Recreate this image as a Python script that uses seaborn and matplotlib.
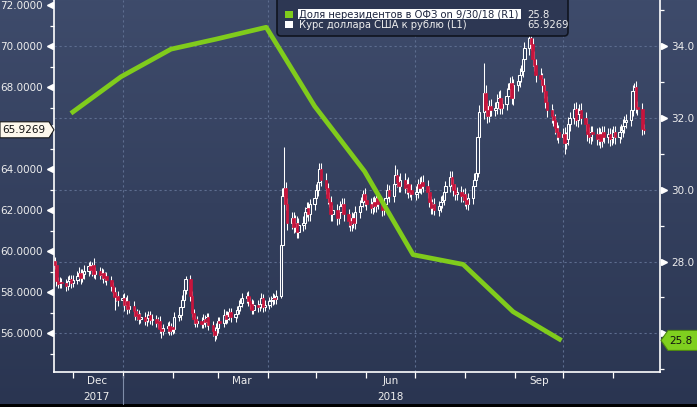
import numpy as np
import pandas as pd
import matplotlib
matplotlib.use("Agg")
import matplotlib.pyplot as plt
import matplotlib.dates as mdates
import matplotlib.patches as mpatches
from matplotlib.colors import LinearSegmentedColormap
from matplotlib.ticker import FixedLocator, FuncFormatter, NullFormatter
import seaborn as sns

# ---------------- data ----------------
first_open = 59.55
close = [
    59.35, 58.55, 58.40, 58.50, 58.45,
    58.30, 58.55, 58.65, 58.45, 58.60,
    58.80, 58.95, 58.70, 58.90, 59.05,
    59.30, 59.10, 59.35, 58.90, 59.05,
    58.85, 58.95, 58.70, 58.80, 58.60,
    58.30, 58.00, 57.75, 57.80, 57.60,
    57.70, 57.40, 57.55, 57.20, 57.35,
    57.10, 56.85, 56.95, 56.70, 56.80,
    56.60, 56.75, 56.90, 56.65, 56.70,
    56.50, 56.60, 56.20, 56.10, 56.25,
    56.35, 56.10, 56.30, 56.20, 56.80,
    56.90, 57.30, 57.60, 58.10, 58.65,
    57.80, 57.00, 56.70, 56.50, 56.60,
    56.45, 56.70, 56.55, 56.80, 56.40,
    56.10, 55.90, 56.25, 56.60, 56.50,
    56.90, 56.70, 56.85, 57.05, 56.80,
    56.95, 57.15, 57.35, 57.50, 57.70,
    57.80, 57.55, 57.45, 57.15, 57.40,
    57.30, 57.45, 57.70, 57.30, 57.40,
    57.55, 57.60, 57.70, 57.65, 57.80,
    60.30, 62.70, 63.10, 62.30, 61.40,
    61.60, 61.20, 61.40, 60.95, 61.30,
    61.40, 61.90, 62.10, 61.80, 62.30,
    62.60, 63.00, 63.40, 64.00, 63.50,
    63.10, 62.60, 62.40, 61.80, 62.00,
    61.60, 61.90, 62.20, 62.30, 61.80,
    61.50, 61.30, 61.60, 61.40, 61.90,
    62.20, 62.40, 62.80, 62.50, 62.30,
    62.10, 62.40, 62.20, 62.60, 62.30,
    62.00, 62.30, 62.60, 63.00, 62.70,
    63.30, 63.70, 63.40, 63.20, 63.50,
    63.10, 63.30, 62.90, 63.00, 62.80,
    62.90, 63.30, 63.10, 63.40, 63.20,
    62.90, 62.40, 62.10, 62.30, 62.00,
    62.20, 62.40, 62.50, 62.90, 63.20,
    63.60, 63.30, 63.00, 62.80, 62.90,
    62.70, 62.80, 62.50, 62.30, 62.60,
    63.20, 63.50, 63.80, 65.60, 66.80,
    67.70, 66.90, 66.60, 67.10, 66.90,
    67.00, 67.30, 67.50, 67.00, 67.20,
    67.60, 67.90, 68.20, 67.50, 68.10,
    68.30, 68.60, 68.80, 69.40, 69.90,
    70.40, 70.10, 69.40, 69.10, 68.60,
    68.40, 68.10, 67.80, 67.30, 66.90,
    66.60, 66.40, 66.00, 65.80, 65.60,
    65.70, 65.30, 65.50, 66.20, 66.50,
    66.95, 66.40, 66.70, 66.90, 66.50,
    66.20, 65.70, 65.60, 65.80, 65.70,
    65.50, 65.70, 65.40, 65.80, 65.60,
    65.70, 65.50, 65.60, 65.80, 65.60,
    65.80, 65.90, 66.10, 66.30, 66.40,
    66.90, 67.80, 68.00, 67.05, 66.95,
    65.95, 65.9269,
]
upper_wick = [
    0.15, 0.20, 0.20, 0.25, 0.20,
    0.20, 0.25, 0.20, 0.20, 0.25,
    0.25, 0.30, 0.20, 0.25, 0.30,
    0.20, 0.25, 0.15, 0.30, 0.20,
    0.20, 0.25, 0.20, 0.20, 0.20,
    0.20, 0.20, 0.25, 0.20, 0.25,
    0.20, 0.25, 0.20, 0.30, 0.20,
    0.20, 0.20, 0.25, 0.20, 0.20,
    0.25, 0.20, 0.20, 0.20, 0.25,
    0.20, 0.20, 0.25, 0.20, 0.20,
    0.20, 0.25, 0.20, 0.20, 0.25,
    0.30, 0.20, 0.25, 0.20, 0.15,
    0.20, 0.25, 0.20, 0.20, 0.25,
    0.20, 0.25, 0.20, 0.20, 0.20,
    0.20, 0.20, 0.25, 0.20, 0.20,
    0.30, 0.20, 0.25, 0.20, 0.20,
    0.20, 0.20, 0.25, 0.20, 0.25,
    0.20, 0.25, 0.20, 0.20, 0.20,
    0.20, 0.20, 0.25, 0.20, 0.20,
    0.20, 0.20, 0.25, 0.20, 0.30,
    0.30, 0.40, 2.00, 0.30, 0.30,
    0.30, 0.30, 0.35, 0.30, 0.30,
    0.30, 0.25, 0.30, 0.30, 0.25,
    0.25, 0.30, 0.30, 0.30, 0.30,
    0.30, 0.25, 0.30, 0.30, 0.25,
    0.30, 0.30, 0.25, 0.30, 0.30,
    0.25, 0.30, 0.30, 0.25, 0.30,
    0.30, 0.25, 0.20, 0.30, 0.25,
    0.30, 0.25, 0.30, 0.25, 0.30,
    0.25, 0.30, 0.25, 0.30, 0.25,
    0.30, 0.50, 0.30, 0.25, 0.30,
    0.30, 0.25, 0.30, 0.25, 0.30,
    0.30, 0.25, 0.30, 0.25, 0.30,
    0.30, 0.25, 0.30, 0.25, 0.30,
    0.25, 0.30, 0.25, 0.30, 0.25,
    0.30, 0.30, 0.25, 0.30, 0.25,
    0.30, 0.25, 0.30, 0.30, 0.25,
    0.25, 0.30, 0.30, 0.30, 0.35,
    1.50, 0.40, 0.35, 0.30, 0.35,
    0.30, 0.35, 0.30, 0.35, 0.30,
    0.35, 0.30, 0.30, 0.35, 0.30,
    0.30, 0.35, 0.30, 0.35, 0.30,
    0.25, 0.35, 0.30, 0.35, 0.30,
    0.35, 0.30, 0.35, 0.30, 0.30,
    0.30, 0.35, 0.30, 0.30, 0.35,
    0.30, 0.35, 0.30, 0.35, 0.30,
    0.30, 0.35, 0.30, 0.30, 0.35,
    0.30, 0.30, 0.35, 0.30, 0.30,
    0.30, 0.35, 0.30, 0.30, 0.30,
    0.30, 0.30, 0.35, 0.30, 0.30,
    0.30, 0.30, 0.35, 0.30, 0.30,
    0.30, 0.30, 0.20, 0.30, 0.30,
    0.30, 0.25,
]
lower_wick = [
    0.20, 0.25, 0.20, 0.20, 0.25,
    0.25, 0.20, 0.20, 0.25, 0.20,
    0.20, 0.25, 0.30, 0.20, 0.25,
    0.25, 0.20, 0.30, 0.20, 0.25,
    0.20, 0.20, 0.25, 0.20, 0.25,
    0.25, 0.20, 0.60, 0.20, 0.25,
    0.20, 0.30, 0.20, 0.25, 0.20,
    0.25, 0.20, 0.20, 0.25, 0.20,
    0.20, 0.25, 0.20, 0.20, 0.25,
    0.20, 0.25, 0.20, 0.35, 0.20,
    0.25, 0.20, 0.20, 0.25, 0.20,
    0.20, 0.25, 0.20, 0.25, 0.20,
    0.25, 0.20, 0.25, 0.20, 0.20,
    0.20, 0.20, 0.25, 0.20, 0.25,
    0.25, 0.30, 0.20, 0.25, 0.20,
    0.20, 0.25, 0.20, 0.20, 0.25,
    0.25, 0.20, 0.20, 0.25, 0.20,
    0.20, 0.20, 0.25, 0.20, 0.20,
    0.25, 0.20, 0.20, 0.25, 0.20,
    0.20, 0.25, 0.20, 0.20, 0.20,
    0.10, 0.20, 0.30, 0.30, 0.35,
    0.30, 0.30, 0.25, 0.30, 0.30,
    0.30, 0.30, 0.25, 0.30, 0.30,
    0.30, 0.25, 0.30, 0.30, 0.30,
    0.30, 0.30, 0.25, 0.30, 0.30,
    0.30, 0.25, 0.30, 0.30, 0.30,
    0.30, 0.30, 0.30, 0.25, 0.30,
    0.30, 0.30, 0.25, 0.30, 0.30,
    0.25, 0.30, 0.30, 0.30, 0.25,
    0.30, 0.25, 0.30, 0.30, 0.30,
    0.30, 0.30, 0.25, 0.30, 0.30,
    0.25, 0.30, 0.30, 0.25, 0.30,
    0.30, 0.30, 0.25, 0.30, 0.30,
    0.30, 0.25, 0.30, 0.30, 0.25,
    0.30, 0.30, 0.30, 0.25, 0.30,
    0.30, 0.25, 0.30, 0.30, 0.30,
    0.30, 0.30, 0.30, 0.25, 0.30,
    0.30, 0.25, 0.30, 0.20, 0.25,
    0.35, 0.30, 0.35, 0.30, 0.30,
    0.30, 0.30, 0.35, 0.30, 0.30,
    0.30, 0.35, 0.30, 0.30, 0.35,
    0.30, 0.30, 0.35, 0.30, 0.30,
    0.30, 0.30, 0.35, 0.30, 0.35,
    0.30, 0.35, 0.30, 0.30, 0.35,
    0.35, 0.30, 0.30, 0.35, 0.30,
    0.30, 0.55, 0.30, 0.30, 0.35,
    0.30, 0.30, 0.35, 0.30, 0.30,
    0.35, 0.30, 0.30, 0.35, 0.30,
    0.30, 0.30, 0.35, 0.30, 0.30,
    0.30, 0.35, 0.30, 0.30, 0.35,
    0.30, 0.30, 0.30, 0.35, 0.30,
    0.30, 0.30, 0.30, 0.30, 0.30,
    0.30, 0.20,
]
share_dates = ["2017-11-30", "2017-12-31", "2018-01-31", "2018-02-28", "2018-03-31",
               "2018-04-30", "2018-05-31", "2018-06-30", "2018-07-31", "2018-08-31",
               "2018-09-30"]
share_values = [32.13, 33.15, 33.92, 34.20, 34.53, 32.33, 30.51, 28.19, 27.92, 26.60, 25.80]

month_labels = ["Dec", "Mar", "Jun", "Sep"]
month_label_dates = ["2017-12-16", "2018-03-16", "2018-06-16", "2018-09-16"]
year_labels = ["2017", "2018"]
year_label_dates = ["2017-12-16", "2018-06-16"]
quarter_lines = ["2018-01-01", "2018-04-01", "2018-07-01", "2018-10-01"]
left_ticks = [56, 58, 60, 62, 64, 66, 68, 70, 72]
right_ticks = [26, 28, 30, 32, 34]
legend_names = ["Доля нерезидентов в ОФЗ on 9/30/18 (R1)", "Курс доллара США к рублю (L1)"]
legend_values = ["25.8", "65.9269"]
last_rate = 65.9269
last_share = 25.8

# ---------------- style ----------------
sns.set_theme(style="dark")
plt.rcParams['font.family'] = ['DejaVu Sans']
TXT = '#eeeeee'
GREEN = '#80cc1c'
RED = '#c8143c'
GRID = '#5d6d8f'

W, H = 697, 407
fig = plt.figure(figsize=(W / 100, H / 100), dpi=100)

bg = fig.add_axes([0, 0, 1, 1], zorder=-5)
cmap = LinearSegmentedColormap.from_list('bg', ['#3e4b6b', '#2a3551'])
bg.imshow(np.linspace(0, 1, 256).reshape(-1, 1), aspect='auto', cmap=cmap,
          extent=[0, 1, 0, 1], origin='upper')
bg.axis('off')

AX_L, AX_R, AX_B, AX_T = 54, 660, 372, 0
ax = fig.add_axes([AX_L / W, (H - AX_B) / H, (AX_R - AX_L) / W, (AX_B - AX_T) / H])
ax.set_facecolor('none')

L_LIM = (54.11, 72.26)
R_LIM = (24.92, 35.29)

# candles
dates = pd.bdate_range("2017-11-20", periods=len(close))
c = np.array(close)
o = np.r_[first_open, c[:-1]]
hi = np.maximum(o, c) + np.array(upper_wick)
lo = np.minimum(o, c) - np.array(lower_wick)
up = c >= o
body_lo = np.minimum(o, c)
body_h = np.maximum(np.abs(c - o), 0.05)

# grid (behind candles)
for v in right_ticks:
    f = (v - R_LIM[0]) / (R_LIM[1] - R_LIM[0])
    ax.plot([0, 1], [f, f], transform=ax.transAxes, color=GRID, lw=0.8,
            ls=(0, (2, 2.5)), zorder=0)
for d in quarter_lines:
    ax.axvline(pd.Timestamp(d), color=GRID, lw=0.8, ls=(0, (2, 2.5)), zorder=0)

ax.vlines(dates, lo, hi, color='white', lw=0.75, zorder=2)
ax.bar(dates[up], body_h[up], bottom=body_lo[up], width=1.5, facecolor='#33405f',
       edgecolor='white', lw=0.75, zorder=3)
ax.bar(dates[~up], body_h[~up], bottom=body_lo[~up], width=1.6, facecolor=RED,
       edgecolor=RED, lw=0.5, zorder=3)

ax.set_xlim(pd.Timestamp("2017-11-19 12:00"), pd.Timestamp("2018-11-30"))
ax.set_ylim(*L_LIM)

# second axis: non-resident share
ax2 = ax.twinx()
ax2.set_facecolor('none')
share_df = pd.DataFrame({"date": pd.to_datetime(share_dates), "share": share_values})
sns.lineplot(data=share_df, x="date", y="share", ax=ax2, color=GREEN, lw=3.4,
             solid_capstyle='butt')
ax2.set_ylim(*R_LIM)
ax2.set_xlim(ax.get_xlim())
ax.set_xlabel(""); ax.set_ylabel(""); ax2.set_xlabel(""); ax2.set_ylabel("")

# spines
for a in (ax, ax2):
    for s in a.spines.values():
        s.set_visible(False)
for s in ('left', 'bottom'):
    ax.spines[s].set_visible(True)
    ax.spines[s].set_color('white')
    ax.spines[s].set_linewidth(1.2)
ax2.spines['right'].set_visible(True)
ax2.spines['right'].set_color('white')
ax2.spines['right'].set_linewidth(1.2)

# left ticks (66 label is covered by the last-value tag in the reference)
ax.yaxis.set_major_locator(FixedLocator(left_ticks))
ax.yaxis.set_major_formatter(FuncFormatter(lambda v, p: "" if v == 66 else f"{v:.4f}"))
ax.yaxis.set_minor_locator(FixedLocator([55, 57, 59, 61, 63, 65, 67, 69, 71]))
ax.tick_params(axis='y', which='major', length=0, pad=8, labelsize=7.5, labelcolor=TXT)
ax.tick_params(axis='y', which='minor', length=3, width=0.9, color='white', direction='out')
ax.plot(np.full(len(left_ticks), -3.5 / 606), left_ticks, marker='<', ms=4.5, ls='none',
        color='white', transform=ax.get_yaxis_transform(), clip_on=False, zorder=5)

# right ticks
ax2.yaxis.set_major_locator(FixedLocator(right_ticks))
ax2.yaxis.set_major_formatter(FuncFormatter(lambda v, p: "" if v == 26 else f"{v:.1f}"))
ax2.yaxis.set_minor_locator(FixedLocator([25, 27, 29, 31, 33, 35]))
ax2.tick_params(axis='y', which='major', length=0, pad=8, labelsize=7.5, labelcolor=TXT)
ax2.tick_params(axis='y', which='minor', length=3, width=0.9, color='white', direction='out')
ax2.plot(np.full(len(right_ticks), 1 + 3.5 / 606), right_ticks, marker='>', ms=4.5,
         ls='none', color='white', transform=ax2.get_yaxis_transform(), clip_on=False,
         zorder=5)

# x ticks
ax.xaxis.set_major_locator(mdates.MonthLocator())
ax.xaxis.set_major_formatter(NullFormatter())
ax.tick_params(axis='x', which='major', length=4, width=0.9, color='white',
               direction='out', bottom=True)
ax2.tick_params(axis='x', which='both', bottom=False, top=False, labelbottom=False)
ax.grid(False); ax2.grid(False)

xt = ax.get_xaxis_transform()
for lab, d in zip(month_labels, month_label_dates):
    ax.text(pd.Timestamp(d), -9 / 372, lab, transform=xt, ha='center', va='center',
            fontsize=7.5, color=TXT, clip_on=False)
for lab, d in zip(year_labels, year_label_dates):
    ax.text(pd.Timestamp(d), -25.5 / 372, lab, transform=xt, ha='center', va='center',
            fontsize=7.5, color=TXT, clip_on=False)

# ---------------- overlay (legend, tags) ----------------
ov = fig.add_axes([0, 0, 1, 1], zorder=10)
ov.set_xlim(0, W); ov.set_ylim(H, 0); ov.axis('off'); ov.patch.set_alpha(0)

# year separator and bottom strip
jan_px = ax.transData.transform((mdates.date2num(pd.Timestamp("2018-01-01")), L_LIM[0]))[0]
ov.plot([jan_px, jan_px], [376, 404], color='#7f8da8', lw=0.8)
ov.add_patch(mpatches.Rectangle((0, 404), W, 4, color='black', lw=0))

# left last-value tag
y_rate = H - ax.transData.transform((0, last_rate))[1]
ov.add_patch(mpatches.Polygon([(0, y_rate - 8), (49, y_rate - 8), (54, y_rate),
                               (49, y_rate + 8), (0, y_rate + 8)], closed=True,
                              fc='#fdf8ec', ec='#1a1a1a', lw=0.8))
ov.text(2, y_rate + 0.5, f"{last_rate:.4f}", ha='left', va='center', fontsize=7.5,
        color='#111111')

# right last-value tag
y_share = H - ax2.transData.transform((0, last_share))[1]
ov.add_patch(mpatches.Polygon([(661, y_share), (668, y_share - 10), (699, y_share - 10),
                               (699, y_share + 10), (668, y_share + 10)], closed=True,
                              fc='#7fcf1f', ec='#4f8a10', lw=0.8))
ov.text(669, y_share + 0.5, f"{last_share:.1f}", ha='left', va='center', fontsize=7.5,
        color='#111111')

# legend box
ov.add_patch(mpatches.FancyBboxPatch((277, -10), 291, 46,
                                     boxstyle="round,pad=0,rounding_size=4",
                                     fc='#2d3753', ec='#10141f', lw=1.2))
ov.add_patch(mpatches.Rectangle((285, 11), 8, 7, fc=GREEN, lw=0))
ov.add_patch(mpatches.Rectangle((285, 21), 8, 7, fc='white', lw=0))
ov.add_patch(mpatches.Rectangle((298, 9.3), 223, 10, fc='white', lw=0))
ov.text(299, 14.5, legend_names[0], ha='left', va='center', fontsize=7.2, color='#1e2640')
ov.text(299, 25, legend_names[1], ha='left', va='center', fontsize=7.2, color=TXT)
ov.text(527, 14.5, legend_values[0], ha='left', va='center', fontsize=7.2, color=TXT)
ov.text(527, 25, legend_values[1], ha='left', va='center', fontsize=7.2, color=TXT)

fig.savefig("out.png", dpi=100)
